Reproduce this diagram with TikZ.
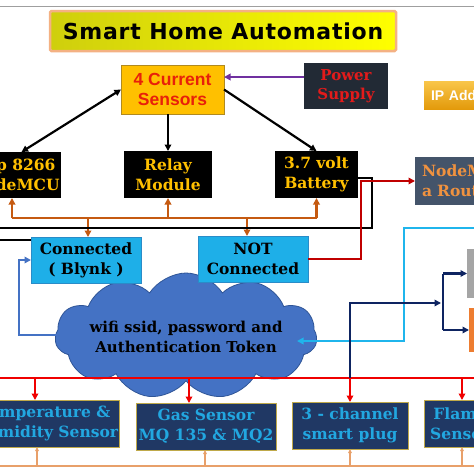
\documentclass[tikz,border=0pt]{standalone}
\usepackage{fontspec}
\setmainfont{DejaVu Serif}
\newfontfamily\sansf{Liberation Sans}
\newfontfamily\titlef[LetterSpace=3.5]{DejaVu Sans}
\usetikzlibrary{arrows.meta,shapes.symbols,calc}
\definecolor{boxyellow}{HTML}{FFC000}
\definecolor{sensorfill}{HTML}{FFC000}
\definecolor{sensoredge}{HTML}{B08A20}
\definecolor{sensortext}{HTML}{E8200A}
\definecolor{powerfill}{HTML}{222A35}
\definecolor{powertext}{HTML}{E31B1B}
\definecolor{iptop}{HTML}{F9C64A}
\definecolor{ipbot}{HTML}{E39A0B}
\definecolor{routerfill}{HTML}{44546A}
\definecolor{routertext}{HTML}{F0923F}
\definecolor{connfill}{HTML}{1EAFE8}
\definecolor{connedge}{HTML}{2A8CC8}
\definecolor{cloudfill}{HTML}{4472C4}
\definecolor{cloudedge}{HTML}{2F5597}
\definecolor{botfill}{HTML}{203864}
\definecolor{botedge}{HTML}{BFA94A}
\definecolor{bottext}{HTML}{22A7E0}
\definecolor{grayfill}{HTML}{A5A5A5}
\definecolor{orfill}{HTML}{ED7D31}
\definecolor{purp}{HTML}{7030A0}
\definecolor{dred}{HTML}{C00000}
\definecolor{brred}{HTML}{F00000}
\definecolor{lblue}{HTML}{1FB5EC}
\definecolor{navyc}{HTML}{0E2461}
\definecolor{orline}{HTML}{C55A11}
\definecolor{orthin}{HTML}{E8A06A}
\definecolor{blueline}{HTML}{4472C4}
\definecolor{titleedge}{HTML}{F4B183}
\tikzset{
  every node/.style={inner sep=0pt, outer sep=0pt},
  serif15/.style={font=\bfseries\fontsize{15.5}{20}\selectfont, align=center},
  blackbox/.style={serif15, fill=black, text=boxyellow},
  connbox/.style={serif15, fill=connfill, draw=connedge, line width=0.6pt, text=black},
  botbox/.style={font=\bfseries\fontsize{15.5}{20}\selectfont, align=center, fill=botfill, draw=botedge, line width=0.8pt, text=bottext, minimum height=47pt},
  tip/.style={-{Triangle[length=6.5pt,width=6.5pt]}},
  smalltip/.style={-{Triangle[length=4pt,width=3.5pt]}},
  blkline/.style={black, line width=2.2pt},
  orbus/.style={orline, line width=2.2pt},
  redbus/.style={brred, line width=2.2pt},
  thinor/.style={orthin, line width=1.1pt},
}
\begin{document}
\begin{tikzpicture}[x=1pt,y=-1pt]
\useasboundingbox (0,0) rectangle (474,474);
\clip (0,0) rectangle (474,474);
\fill[white] (0,0) rectangle (474,474);
% top gray rule
\coordinate (topL) at (0,6);
\coordinate (topR) at (474,6);
\draw[gray!75, line width=1pt] (topL) -- (topR);
% title
\node[draw=titleedge, line width=2.5pt, rounded corners=1.5pt, left color=yellow!80!black!95, right color=yellow, minimum width=346pt, minimum height=40pt, font=\titlef\bfseries\fontsize{22}{22}\selectfont] (title) at (223,31) {Smart Home Automation};
% cloud
\node[cloud, cloud puffs=11, cloud puff arc=115, aspect=2.05, draw=cloudedge, line width=0.8pt, fill=cloudfill, minimum width=262pt, minimum height=126pt] (cloud) at (186,336) {};
\node[font=\bfseries\fontsize{15}{20}\selectfont, align=center, text=black] (cloudtxt) at (186,337) {wifi ssid, password and\\Authentication Token};
% top boxes
\node[fill=sensorfill, draw=sensoredge, line width=0.8pt, minimum width=103pt, minimum height=49pt, font=\sansf\bfseries\fontsize{17.5}{20}\selectfont, text=sensortext, align=center] (sensors) at (172.5,89.5) {4 Current\\Sensors};
\node[fill=powerfill, minimum width=84pt, minimum height=46pt, font=\bfseries\fontsize{15}{19}\selectfont, text=powertext, align=center] (power) at (346,86) {Power\\Supply};
\node[top color=iptop, bottom color=ipbot, minimum width=120pt, minimum height=28pt, text width=106pt, align=left, inner xsep=7pt, font=\sansf\bfseries\fontsize{14}{14}\selectfont, text=white] (ip) at (484,95) {IP Address};
\node[blackbox, minimum width=91pt, minimum height=46pt] (esp) at (15.5,175) {Esp 8266\\NodeMCU};
\node[blackbox, minimum width=88pt, minimum height=47pt] (relay) at (168,174.5) {Relay\\Module};
\node[blackbox, minimum width=83pt, minimum height=47pt] (battery) at (316.5,174.5) {3.7 volt\\Battery};
\node[serif15, fill=routerfill, text=routertext, minimum width=140pt, minimum height=48pt, text width=126pt, align=left, inner xsep=7pt] (router) at (485,181) {NodeMCU as\\a Router};
\node[connbox, minimum width=110pt, minimum height=46pt] (connected) at (86,260) {Connected\\( Blynk )};
\node[connbox, minimum width=110pt, minimum height=46pt] (notconn) at (253,259) {NOT\\Connected};
\node[fill=grayfill, minimum width=33pt, minimum height=49pt] (grayb) at (483.5,273.5) {};
\node[fill=orfill, minimum width=31pt, minimum height=44pt] (orb) at (484.5,330) {};
% bottom boxes
\node[botbox, minimum width=148pt] (temp) at (45,423.5) {Temperature \&\\Humidity Sensor};
\node[botbox, minimum width=140pt] (gas) at (206,426.5) {Gas Sensor\\MQ 135 \& MQ2};
\node[botbox, minimum width=116pt] (plug) at (350,425.5) {3 - channel\\smart plug};
\node[botbox, minimum width=72pt] (flame) at (460,423.5) {Flame\\Sensor};
% black arrows from sensors
\draw[blkline, {Triangle[length=6.5pt,width=6.5pt]}-{Triangle[length=6.5pt,width=6.5pt]}] (sensors.west) -- ([xshift=6pt]esp.north);
\draw[blkline, tip] (sensors.south -| relay.north) -- (relay.north);
\draw[blkline, tip] (sensors.east) -- (battery.north);
% purple
\draw[purp, line width=1.8pt, tip] ([yshift=9pt]power.west) -- ([yshift=12.5pt]sensors.east);
% orange bus
\coordinate (oL) at (12,218);
\coordinate (oR) at (316.5,218);
\draw[orbus] (oL) -- (oR);
\draw[orbus, tip] (oL) -- (oL |- esp.south);
\draw[orbus, tip] (relay.south |- oL) -- (relay.south);
\draw[orbus, tip] (oR) -- (battery.south);
\draw[orbus, tip] ([xshift=2pt]connected.north |- oL) -- ([xshift=2pt]connected.north);
\draw[orbus, tip] ([xshift=-6pt]notconn.north |- oL) -- ([xshift=-6pt]notconn.north);
% black lines
\coordinate (bl1) at (-5,228);
\coordinate (bl2) at (-5,240);
\draw[black, line width=1.8pt] ([yshift=-3.5pt]battery.east) -- ++(14,0) |- (bl1);
\draw[black, line width=1.8pt] (bl2) -- (bl2 -| connected.west);
% dark red
\draw[dred, line width=2.2pt, tip] (notconn.east) -- ++(53,0) |- (router.west);
% light blue
\coordinate (lbR) at (480,228);
\draw[lblue, line width=2.2pt, tip] (lbR) -- ++(-76,0) -- ++(0,113) -- ++(-107,0);
% blue to connected
\coordinate (cl) at (57,335);
\draw[blueline, line width=1.8pt, tip] (cl) -- ++(-38,0) |- (connected.west);
% red bus
\coordinate (rL) at (-5,378);
\coordinate (rR) at (480,378);
\draw[redbus] (rL) -- (rR);
\draw[redbus, tip] ([xshift=-10pt]temp.north |- rL) -- ([xshift=-10pt]temp.north);
\draw[redbus, tip] ([xshift=-17pt]gas.north |- rL) -- ([xshift=-17pt]gas.north);
\draw[redbus, tip] (plug.north |- rL) -- (plug.north);
\draw[redbus, tip] ([xshift=2pt]flame.north |- rL) -- ([xshift=2pt]flame.north);
% navy
\coordinate (fork) at (443,303);
\draw[navyc, line width=2.2pt, tip, shorten >=2pt] (plug.north |- rL) -- (plug.north |- fork) -- (fork);
\draw[navyc, line width=2.2pt] (fork |- grayb.west) -- (fork |- orb.west);
\draw[navyc, line width=2.2pt, tip] (fork |- grayb.west) -- (grayb.west);
\draw[navyc, line width=2.2pt, tip] (fork |- orb.west) -- (orb.west);
% thin orange bottom bus
\coordinate (tL) at (-5,466);
\coordinate (tR) at (480,466);
\draw[thinor] (tL) -- (tR);
\draw[thinor, smalltip] ([xshift=-8pt]temp.south |- tL) -- ([xshift=-8pt]temp.south);
\draw[thinor, smalltip] ([xshift=-1pt]gas.south |- tL) -- ([xshift=-1pt]gas.south);
\draw[thinor, smalltip] (plug.south |- tL) -- (plug.south);
\draw[thinor, smalltip] ([xshift=2pt]flame.south |- tL) -- ([xshift=2pt]flame.south);
\end{tikzpicture}
\end{document}
